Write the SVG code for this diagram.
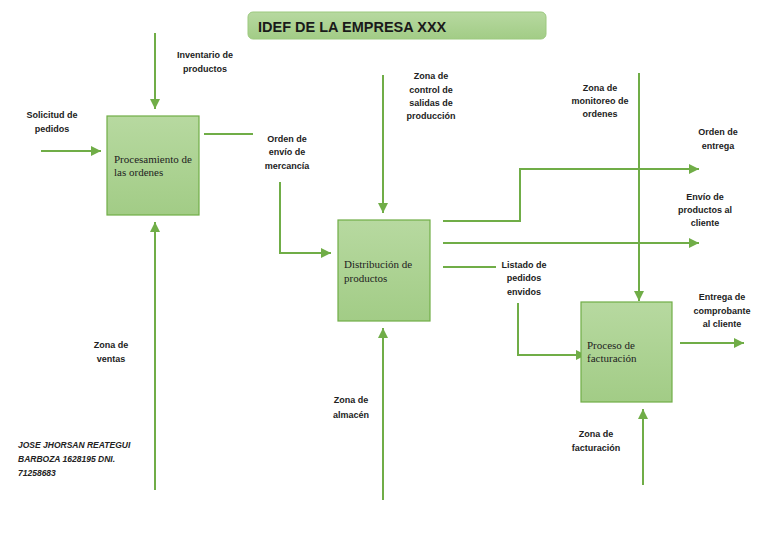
<svg xmlns="http://www.w3.org/2000/svg" width="768" height="543" viewBox="0 0 768 543">
<defs>
<marker id="ah" markerWidth="6" markerHeight="6" refX="5" refY="3" orient="auto" markerUnits="strokeWidth"><path d="M0,0.5 L5,3 L0,5.5 z" fill="#70ad47"/></marker>
<linearGradient id="g" x1="0" y1="0" x2="0" y2="1"><stop offset="0" stop-color="#b7d9a0"/><stop offset="1" stop-color="#a2cc86"/></linearGradient>
<style>
.c{fill:none;stroke:#70ad47;stroke-width:2}
.a{marker-end:url(#ah)}
.box{fill:url(#g);stroke:#70ad47;stroke-width:1.2}
.l{font-family:"Liberation Sans Narrow","Liberation Sans",sans-serif;font-size:9px;font-weight:bold;fill:#222;text-anchor:middle}
.b{font-family:"Liberation Serif",serif;font-size:11px;fill:#222}
</style>
</defs>
<rect width="768" height="543" fill="#fff"/>
<g id="title"><rect x="248" y="12" width="298" height="27" rx="5" fill="url(#g)" stroke="#9cc97f"/><text x="258" y="32" font-family="'Liberation Sans',sans-serif" font-size="14.5" font-weight="bold" fill="#1a1a1a">IDEF DE LA EMPRESA XXX</text></g>
<g id="connectors">
<path class="c a" d="M155,33 V109"/>
<path class="c a" d="M41,151 H101"/>
<path class="c a" d="M155,490 V222"/>
<path class="c" d="M204,134 H253"/>
<path class="c a" d="M280,182 V253 H331"/>
<path class="c a" d="M383,75 V213"/>
<path class="c a" d="M383,500 V328"/>
<path class="c a" d="M443,221 H520 V169 H699"/>
<path class="c a" d="M443,243 H699"/>
<path class="c" d="M443,267 H496"/>
<path class="c a" d="M518,303 V355 H586"/>
<path class="c a" d="M639,73 V301"/>
<path class="c a" d="M643,485 V409"/>
<path class="c a" d="M680,343 H744"/>
</g>
<g id="n1"><rect class="box" x="107" y="116" width="92" height="99"/><text class="b" x="114" y="163">Procesamiento de</text><text class="b" x="114" y="176">las ordenes</text></g>
<g id="n2"><rect class="box" x="338" y="220" width="92" height="101"/><text class="b" x="344" y="268">Distribución de</text><text class="b" x="344" y="282">productos</text></g>
<g id="n3"><rect class="box" x="581" y="302" width="91" height="100"/><text class="b" x="587" y="349">Proceso de</text><text class="b" x="587" y="362">facturación</text></g>
<g id="labels">
<text class="l" x="205" y="58">Inventario de</text><text class="l" x="205" y="72">productos</text>
<text class="l" x="52" y="118">Solicitud de</text><text class="l" x="52" y="132">pedidos</text>
<text class="l" x="287" y="142">Orden de</text><text class="l" x="287" y="155">envío de</text><text class="l" x="287" y="169">mercancía</text>
<text class="l" x="431" y="79">Zona de</text><text class="l" x="431" y="93">control de</text><text class="l" x="431" y="106">salidas de</text><text class="l" x="431" y="119">producción</text>
<text class="l" x="600" y="91">Zona de</text><text class="l" x="600" y="104">monitoreo de</text><text class="l" x="600" y="117">ordenes</text>
<text class="l" x="718" y="135">Orden de</text><text class="l" x="718" y="149">entrega</text>
<text class="l" x="705" y="200">Envío de</text><text class="l" x="705" y="213">productos al</text><text class="l" x="705" y="226">cliente</text>
<text class="l" x="524" y="268">Listado de</text><text class="l" x="524" y="281">pedidos</text><text class="l" x="524" y="295">envidos</text>
<text class="l" x="722" y="300">Entrega de</text><text class="l" x="722" y="314">comprobante</text><text class="l" x="722" y="327">al cliente</text>
<text class="l" x="111" y="348">Zona de</text><text class="l" x="111" y="362">ventas</text>
<text class="l" x="351" y="403">Zona de</text><text class="l" x="351" y="418">almacén</text>
<text class="l" x="596" y="437">Zona de</text><text class="l" x="596" y="451">facturación</text>
<g font-family="'Liberation Sans',sans-serif" font-size="8.5" font-weight="bold" font-style="italic" fill="#222"><text x="18" y="448">JOSE JHORSAN REATEGUI</text><text x="18" y="462">BARBOZA 1628195 DNI.</text><text x="18" y="476">71258683</text></g>
</g>
</svg>
